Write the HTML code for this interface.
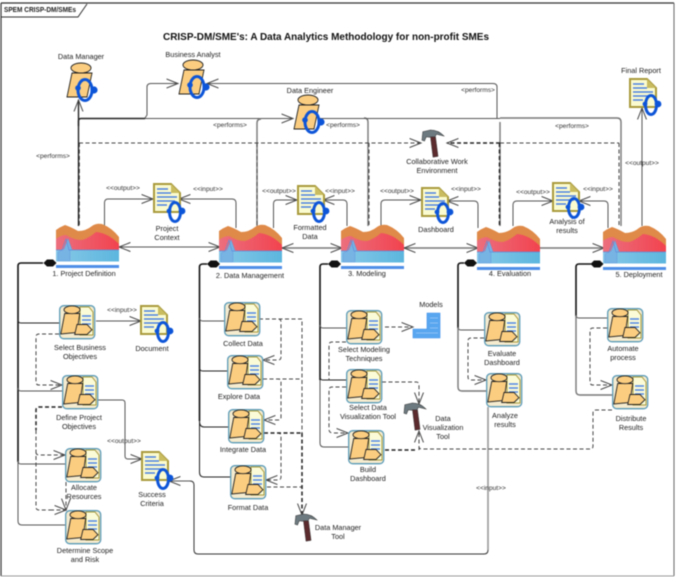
<!DOCTYPE html>
<html>
<head>
<meta charset="utf-8">
<style>
html,body{margin:0;padding:0;background:#fff;width:685px;height:577px;overflow:hidden}
svg{display:block;filter:blur(.4px)}
text{font-family:"Liberation Sans",sans-serif;font-size:7.3px;fill:#222;text-anchor:middle}
.s{font-size:6.6px;fill:#333}
.l{fill:none;stroke:#555;stroke-width:1;stroke-linejoin:round}
.k{fill:none;stroke:#222;stroke-width:1.4;stroke-linejoin:round}
.g{fill:none;stroke:#777;stroke-width:1.4;stroke-linejoin:round}
.d{fill:none;stroke:#444;stroke-width:1;stroke-dasharray:4 2.5;stroke-linejoin:round}
.t{fill:none;stroke:#222;stroke-width:1.5;stroke-dasharray:4 2.5;stroke-linejoin:round}
.a{marker-end:url(#ar)}
.b{marker-start:url(#ar);marker-end:url(#ar)}
</style>
</head>
<body>
<svg width="685" height="577" viewBox="0 0 685 577" xmlns="http://www.w3.org/2000/svg">
<defs>
<marker id="ar" markerUnits="userSpaceOnUse" markerWidth="14" markerHeight="12" refX="11.5" refY="6" orient="auto-start-reverse">
<path d="M0 1.5L11.5 6L0 10.5" fill="none" stroke="#444" stroke-width="1"/>
</marker>
<linearGradient id="red" x1="0" y1="0" x2="1" y2="0"><stop offset="0" stop-color="#ec6f7e"/><stop offset="1" stop-color="#f2434f"/></linearGradient>
<linearGradient id="blu" x1="0" y1="0" x2="1" y2="0"><stop offset="0" stop-color="#86c8e8"/><stop offset="1" stop-color="#5cb6de"/></linearGradient>
<g id="phase">
<path d="M0 7Q4 4 9 2Q15 4 22 8Q30 8 36 3Q40 0 46 1Q56 5 63 14V28H0Z" fill="#df8a48"/>
<path d="M0 16Q5 12 10 12Q18 17 26 17Q33 15 40 9Q52 10 63 21V28H0Z" fill="url(#red)"/>
<rect x="0" y="27" width="63" height="11.500" fill="url(#blu)"/>
<path d="M2 38V29L8 26L12 16L16 27H14V38Z" fill="#77b3e3" stroke="#6a9fe0" stroke-width=".6"/>
<path d="M0 27H6L10 16L13 27H63" fill="none" stroke="#5f8fdc" stroke-width=".7"/>
<rect x="0" y="42" width="63" height="3" fill="#4f8fe8"/>
</g>
<g id="task">
<rect x=".7" y=".7" width="35" height="33" rx="4" fill="#f5ebcf" stroke="#5b9bb8" stroke-width="1.3"/>
<path d="M21 2H30L34 7V30H21Z" fill="#fbfbd8" stroke="#a89a3c" stroke-width="1"/>
<path d="M23 11H32M23 15H32M23 19H32" stroke="#4f86e6" stroke-width="1.4"/>
<path d="M5.7 8.5H20.7L18 27.5L1.800 29Z" fill="#fbcd80" stroke="#222" stroke-width=".9"/>
<ellipse cx="13" cy="4.800" rx="8" ry="3.900" fill="#fbcd80" stroke="#222" stroke-width=".9"/>
<path d="M18 19.500H28L33 24.700L28 29.500H15.700Z" fill="#fbcd80" stroke="#222" stroke-width=".9"/>
</g>
<g id="doc">
<path d="M1 1H18L27 10V29H1Z" fill="#fbfbd0" stroke="#a89a3c" stroke-width="2"/>
<path d="M18 1V10H27Z" fill="#c9bc60"/>
<path d="M4 6H15M4 10H18M4 14H24M4 18H22M4 22H14" stroke="#4a7fe2" stroke-width="1.600"/>
</g>
<g id="cyc">
<ellipse cx="0" cy="0" rx="5.500" ry="9.500" fill="none" stroke="#0d55d8" stroke-width="3"/>
<circle cx="7" cy="-1" r="3.400" fill="#0d55d8"/>
<circle cx="-6" cy="-1" r="2.400" fill="#0d55d8"/>
</g>
<g id="role">
<path d="M5 5H25L20 29H0Z" fill="#fbcd80" stroke="#222" stroke-width=".9"/>
<ellipse cx="14" cy="0" rx="10" ry="5" fill="#fbcd80" stroke="#222" stroke-width=".9"/>
<ellipse cx="18" cy="22" rx="7" ry="10.500" fill="none" stroke="#0d55d8" stroke-width="3"/>
<circle cx="27" cy="22" r="3.600" fill="#0d55d8"/>
<circle cx="11" cy="20" r="2.800" fill="#0d55d8"/>
</g>
<g id="ham">
<path d="M-12 -5L-3 -7Q6 -7 13 0L4 -2L2 2L-8 1L-10 6L-13 5Z" fill="#6d7a80" stroke="#333" stroke-width=".6"/>
<path d="M-3 1L3 1L6 24L0 25Z" fill="#5b2b2e" stroke="#333" stroke-width=".5"/>
</g>
<path id="dia" d="M-6.500 0L-3 -3.500H3L6.500 0L3 3.500H-3Z" fill="#111"/>
</defs>

<rect width="685" height="577" fill="#fff"/>
<!-- frame -->
<path d="M1 3H674" stroke="#333" stroke-width="1.200"/>
<path d="M1 3V576" stroke="#333" stroke-width="1.200"/>
<path d="M674 3V576" stroke="#666" stroke-width="1"/>
<path d="M1 576H674" stroke="#999" stroke-width="1"/>
<path d="M1 17H78L87 4" fill="none" stroke="#333" stroke-width="1"/>

<!-- performs -->
<path class="k a" d="M78.500 226V100"/>
<path class="k" d="M78.500 126V121Q78.500 118.500 81 118.500H145"/>
<path class="l a" d="M145 118L147 115V87Q147 83.500 151 83.500H178"/>
<path class="l a" d="M145 118.500H293"/>
<path class="l a" d="M497 118.500V87Q497 83.500 493 83.500H207"/>
<path class="g" d="M257 226V123Q257 119 261 119"/>
<path class="g" d="M368 226V122Q368 118 364 118"/>
<path class="g" d="M500 226V122"/>
<path class="g" d="M621 226V122Q621 118 617 118H500"/>
<path class="l" d="M320 118.500H500"/>
<!-- dashed -->
<path class="d a" d="M79 143H421"/>
<path class="t" d="M79 143V226"/>
<path class="d" d="M257 143V226M369 143V226M619 143V226"/>
<path class="d" d="M500 143H619"/>
<path class="t a" d="M500 143H447"/>
<path class="t" d="M499.500 143V226"/>

<!-- output / input upper -->
<path class="l a" d="M104.500 226V203Q104.500 199 108 199H153"/>
<path class="l a" d="M236 228V203Q236 199 232 199H179"/>
<path class="l b" d="M119 247H220"/>
<path class="l a" d="M273.500 228V204Q273.500 200 277 200H297"/>
<path class="l a" d="M347 226V204Q347 200 343 200H323"/>
<path class="g b" d="M282 248H342"/>
<path class="l a" d="M381 227V204Q381 200 385 200H421"/>
<path class="l a" d="M478 228V205Q478 201 474 201H447"/>
<path class="g b" d="M404 248H478"/>
<path class="l a" d="M513 226V205Q513 201 517 201H553"/>
<path class="l a" d="M608 228V205Q608 201 604 201H579"/>
<path class="g a" d="M540 248H604"/>
<path class="l a" d="M642 226V108"/>

<!-- aggregation phase 1 -->
<path d="M43 263H21Q18 263 18 266V462" fill="none" stroke="#111" stroke-width="1.600"/>
<path class="l" d="M18 462V521Q18 525 22 525H65"/>
<path class="k" d="M18 320Q18 323 21 323H59" style="stroke-width:1"/>
<path class="l" d="M18 388Q18 391 21 391H62"/>
<path class="l" d="M18 461Q18 464 21 464H65"/>
<use href="#dia" x="50" y="263"/>
<!-- phase 2 -->
<path d="M207 264H203Q199.500 264 199.500 267V421" fill="none" stroke="#111" stroke-width="1.600"/>
<path class="l" d="M199.500 318Q199.500 321 203 321H224"/>
<path class="k" d="M199.500 368Q199.500 371 203 371H227" style="stroke-width:1"/>
<path class="k" d="M199.500 421Q199.500 427 204 427H228" style="stroke-width:1"/>
<path class="k" d="M199.500 421V472Q199.500 477 204 477H230" style="stroke-width:1"/>
<use href="#dia" x="213.500" y="264"/>
<!-- phase 3 -->
<path d="M328 264H323Q320 264 320 267V380" fill="none" stroke="#111" stroke-width="1.600"/>
<path class="l" d="M320 325Q320 328 323 328H346"/>
<path class="k" d="M320 377Q320 380 323 380H346" style="stroke-width:1"/>
<path class="l" d="M320 380V443Q320 447 324 447H348"/>
<use href="#dia" x="334.500" y="264"/>
<!-- phase 4 -->
<path d="M464 263H461Q458 263 458 266V328" fill="none" stroke="#111" stroke-width="1.600"/>
<path class="l" d="M458 327Q458 330 461 330H484"/>
<path class="g" d="M458 328V387Q458 391 462 391H486"/>
<use href="#dia" x="470.500" y="263"/>
<!-- phase 5 -->
<path d="M591 264H579Q576 264 576 267V316" fill="none" stroke="#111" stroke-width="1.600"/>
<path class="l" d="M576 315Q576 318 579 318H607"/>
<path class="g" d="M576 316V391Q576 395 580 395H612"/>
<use href="#dia" x="597" y="264"/>

<!-- lower left connectors -->
<path class="l a" d="M96 321H141"/>
<path class="d a" d="M59 334H39Q36 334 36 337V382Q36 385 39 385H62"/>
<path class="t" d="M62 407H39Q36 407 36 410V430"/>
<path class="d" d="M36 430V507Q36 510 39 510H50"/>
<path class="d a" d="M36 452Q36 455 39 455H65"/>
<path class="d a" d="M50 510H66"/>
<path class="d a" d="M66 482V510"/>
<path class="l a" d="M98 400H122Q125 400 125 403V456Q125 459 128 459H142"/>
<path d="M488 407V550" fill="none" stroke="#999" stroke-width="1.600"/>
<path d="M488 550Q488 554 484 554H198Q194 554 194 550V485Q194 481 190 481" fill="none" stroke="#333" stroke-width="1"/>
<path class="l a" d="M190 481H169"/>

<!-- task 2 dashed -->
<path class="d a" d="M259 319H278Q281 319 281 322V357Q281 360 278 360H263"/>
<path class="d" d="M259 319H302V433"/>
<path class="d" d="M263 379H302"/>
<path class="d a" d="M263 379H278Q281 379 281 382V417Q281 420 278 420H264"/>
<path class="d a" d="M264 433H278Q281 433 281 436V477Q281 480 278 480H266"/>
<path class="t" d="M264 433H302"/>
<path class="d" d="M267 487H302"/>
<path class="t a" d="M302 433V515"/>

<!-- task 3 dashed -->
<path class="d a" d="M385 327H413"/>
<path class="d" d="M346 342H332Q329 342 329 345V380"/>
<path class="d a" d="M346 387H332Q329 387 329 390V429Q329 433 333 433H348"/>
<path class="d a" d="M382 382H416Q419 382 419 385V404"/>
<path class="t" d="M385 450H417"/>
<path class="d" d="M612 410H596Q593 410 593 413V446Q593 449 590 449H422Q419 449 419 447"/>
<path class="d a" d="M419 450V431"/>
<!-- task 4/5 dashed -->
<path class="d a" d="M484 338H471Q468 338 468 341V377Q468 380 471 380H486"/>
<path class="d a" d="M607 328H593Q590 328 590 331V382Q590 385 593 385H612"/>

<!-- phases -->
<use href="#phase" x="56" y="223"/>
<use href="#phase" x="219" y="224"/>
<use href="#phase" x="341" y="224"/>
<use href="#phase" x="477" y="225"/>
<use href="#phase" x="603" y="225"/>

<!-- roles -->
<use href="#role" x="67" y="68"/>
<use href="#role" x="179" y="65"/>
<use href="#role" x="294" y="100"/>

<!-- docs -->
<use href="#doc" x="153" y="183"/><use href="#cyc" x="175" y="212"/>
<use href="#doc" x="297" y="185"/><use href="#cyc" x="319" y="212"/>
<use href="#doc" x="421" y="187"/><use href="#cyc" x="443" y="213"/>
<use href="#doc" x="552" y="182"/><use href="#cyc" x="574" y="208"/>
<use href="#doc" x="629" y="78"/><use href="#cyc" x="651" y="105"/>
<use href="#doc" x="140" y="305"/><use href="#cyc" x="163" y="332"/>
<use href="#doc" x="141" y="451"/><use href="#cyc" x="163" y="479"/>

<!-- tasks -->
<use href="#task" x="59" y="305"/>
<use href="#task" x="62" y="375"/>
<use href="#task" x="65" y="448"/>
<use href="#task" x="65" y="510"/>
<use href="#task" x="224" y="302"/>
<use href="#task" x="227" y="355"/>
<use href="#task" x="228" y="409"/>
<use href="#task" x="230" y="465"/>
<use href="#task" x="346" y="310"/>
<use href="#task" x="346" y="369"/>
<use href="#task" x="348" y="430"/>
<use href="#task" x="484" y="312"/>
<use href="#task" x="486" y="373"/>
<use href="#task" x="607" y="308"/>
<use href="#task" x="612" y="375"/>

<!-- hammers -->
<use href="#ham" transform="translate(433 136) scale(.85)"/>
<use href="#ham" transform="translate(306 520) scale(.85)"/>
<use href="#ham" transform="translate(415 409) scale(.85)"/>

<!-- models -->
<path d="M427 313H440V338H413V329H427Z" fill="#58a6f0" stroke="#3f8fe8" stroke-width=".6"/>
<path d="M430 318H438M430 323H438M430 328H438M416 333H438" stroke="#9ccaf5" stroke-width=".8"/>

<!-- text -->
<text x="40" y="12" textLength="72" lengthAdjust="spacingAndGlyphs" style="font-size:7px;font-weight:bold">SPEM CRISP-DM/SMEs</text>
<text x="326" y="40" textLength="326" lengthAdjust="spacingAndGlyphs" style="font-size:10.5px;font-weight:bold;fill:#111">CRISP-DM/SME's: A Data Analytics Methodology for non-profit SMEs</text>

<text x="81" y="59">Data Manager</text>
<text x="193" y="57">Business Analyst</text>
<text x="310" y="93">Data Engineer</text>
<text x="641" y="73">Final Report</text>

<text class="s" x="53" y="158">&lt;performs&gt;</text>
<text class="s" x="230" y="127">&lt;performs&gt;</text>
<text class="s" x="343" y="127">&lt;performs&gt;</text>
<text class="s" x="478" y="92">&lt;performs&gt;</text>
<text class="s" x="572" y="128">&lt;performs&gt;</text>

<text class="s" x="123" y="190">&lt;&lt;output&gt;&gt;</text>
<text class="s" x="208" y="191">&lt;&lt;input&gt;&gt;</text>
<text class="s" x="279" y="193">&lt;&lt;output&gt;&gt;</text>
<text class="s" x="340" y="193">&lt;&lt;input&gt;&gt;</text>
<text class="s" x="397" y="193">&lt;&lt;output&gt;&gt;</text>
<text class="s" x="466" y="191">&lt;&lt;input&gt;&gt;</text>
<text class="s" x="533" y="194">&lt;&lt;output&gt;&gt;</text>
<text class="s" x="598" y="191">&lt;&lt;input&gt;&gt;</text>
<text class="s" x="642" y="165">&lt;&lt;output&gt;&gt;</text>
<text class="s" x="122" y="312">&lt;&lt;input&gt;&gt;</text>
<text class="s" x="124" y="443">&lt;&lt;output&gt;&gt;</text>
<text class="s" x="491" y="490">&lt;&lt;input&gt;&gt;</text>

<text x="167" y="231">Project</text><text x="167" y="240">Context</text>
<text x="310" y="230">Formatted</text><text x="310" y="239">Data</text>
<text x="436" y="232">Dashboard</text>
<text x="437" y="164">Collaborative Work</text><text x="437" y="173">Environment</text>
<text x="567" y="224">Analysis of</text><text x="567" y="233">results</text>

<text x="84" y="276">1. Project Definition</text>
<text x="250" y="278">2. Data Management</text>
<text x="367" y="276">3. Modeling</text>
<text x="510" y="276">4. Evaluation</text>
<text x="639" y="277">5. Deployment</text>

<text x="152" y="351">Document</text>
<text x="80" y="350">Select Business</text><text x="80" y="359">Objectives</text>
<text x="79" y="420">Define Project</text><text x="79" y="429">Objectives</text>
<text x="84" y="490">Allocate</text><text x="84" y="499">Resources</text>
<text x="85" y="553">Determine Scope</text><text x="85" y="562">and Risk</text>
<text x="152" y="497">Success</text><text x="152" y="506">Criteria</text>

<text x="243" y="346">Collect Data</text>
<text x="239" y="399">Explore Data</text>
<text x="243" y="452">Integrate Data</text>
<text x="248" y="510">Format Data</text>
<text x="338" y="530">Data Manager</text><text x="338" y="539">Tool</text>

<text x="431" y="307">Models</text>
<text x="364" y="352">Select Modeling</text><text x="364" y="361">Techniques</text>
<text x="368" y="410">Select Data</text><text x="368" y="419">Visualization Tool</text>
<text x="443" y="421">Data</text><text x="443" y="430">Visualization</text><text x="443" y="439">Tool</text>
<text x="368" y="472">Build</text><text x="368" y="481">Dashboard</text>
<text x="502" y="356">Evaluate</text><text x="502" y="365">Dashboard</text>
<text x="505" y="418">Analyze</text><text x="505" y="427">results</text>
<text x="623" y="351">Automate</text><text x="623" y="360">process</text>
<text x="631" y="421">Distribute</text><text x="631" y="430">Results</text>
</svg>
</body>
</html>
